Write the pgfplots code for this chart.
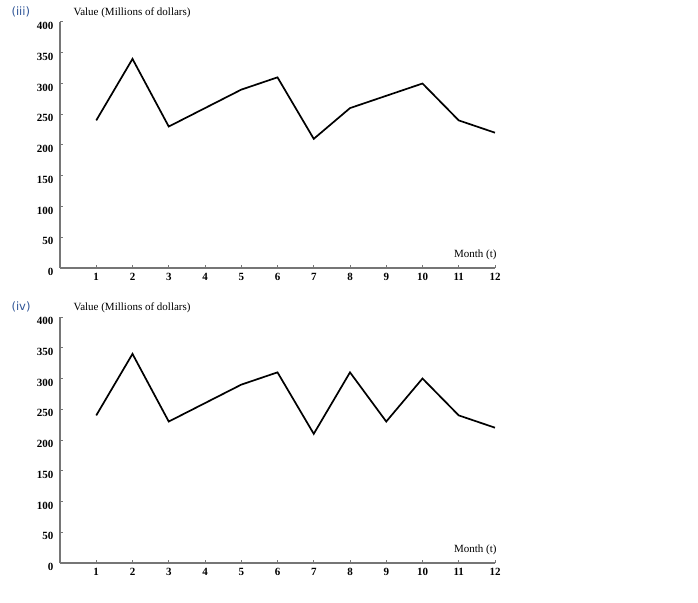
\documentclass[border=0pt]{standalone}
\usepackage{pgfplots}
\pgfplotsset{compat=1.18}
\usepackage{fontspec}
\setmainfont{Liberation Serif}
\newfontfamily\labelfont{DejaVu Sans}
\definecolor{axisgray}{RGB}{118,118,118}
\definecolor{labelblue}{RGB}{47,85,151}
\pgfplotsset{mystyle/.style={
  scale only axis, width=435pt, height=246pt,
  xmin=0, xmax=12, ymin=0, ymax=400,
  axis x line*=bottom, axis y line*=left,
  axis line style={axisgray, line width=1.2pt},
  xtick={1,...,12}, ytick={0,50,...,400},
  tick align=inside, major tick length=3pt,
  tick style={axisgray, line width=1pt},
  /pgf/number format/assume math mode=true,
  ticklabel style={font=\fontsize{11}{13}\selectfont\bfseries},
  yticklabel style={yshift=-4pt, xshift=-3pt},
  xticklabel style={yshift=-2pt},
  clip=false,
}}
\begin{document}
\begin{tikzpicture}
\useasboundingbox (0,0) rectangle (698pt,602pt);
\begin{axis}[mystyle, at={(60pt,334pt)}, anchor=south west]
\addplot[black, line width=1.7pt, sharp plot] coordinates {
(1,240) (2,340) (3,230) (4,260) (5,290) (6,310) (7,210) (8,260) (9,280) (10,300) (11,240) (12,220)};
\node[anchor=base west, font=\labelfont\fontsize{11.5}{13}\selectfont, text=labelblue] at ([xshift=-52pt, yshift=6pt]rel axis cs:0,1) {(iii)};
\node[anchor=base west, font=\fontsize{11}{13}\selectfont] at ([xshift=10pt, yshift=6pt]rel axis cs:0,1) {Value (Millions of dollars)};
\node[anchor=base east, font=\fontsize{11}{13}\selectfont] at ([xshift=5pt, yshift=10pt]rel axis cs:1,0) {Month (t)};
\end{axis}
\begin{axis}[mystyle, at={(60pt,39pt)}, anchor=south west]
\addplot[black, line width=1.7pt, sharp plot] coordinates {
(1,240) (2,340) (3,230) (4,260) (5,290) (6,310) (7,210) (8,310) (9,230) (10,300) (11,240) (12,220)};
\node[anchor=base west, font=\labelfont\fontsize{11.5}{13}\selectfont, text=labelblue] at ([xshift=-52pt, yshift=6pt]rel axis cs:0,1) {(iv)};
\node[anchor=base west, font=\fontsize{11}{13}\selectfont] at ([xshift=10pt, yshift=6pt]rel axis cs:0,1) {Value (Millions of dollars)};
\node[anchor=base east, font=\fontsize{11}{13}\selectfont] at ([xshift=5pt, yshift=10pt]rel axis cs:1,0) {Month (t)};
\end{axis}
\end{tikzpicture}
\end{document}
